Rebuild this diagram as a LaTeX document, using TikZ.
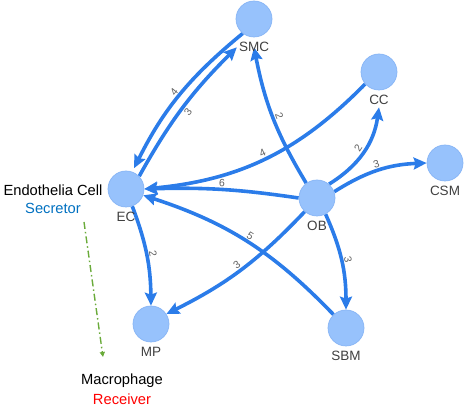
\documentclass[tikz,border=0pt]{standalone}
\usepackage{fontspec}
\setmainfont{Liberation Sans}
\usetikzlibrary{arrows.meta,backgrounds}

\begin{document}
\begin{tikzpicture}[x=1pt,y=1pt,
  cell/.style={circle,minimum size=36,inner sep=0,fill=cellfill,draw=cellline,line width=0.7},
  tag/.style={label distance=3,inner sep=2,text=tagtext,font=\fontsize{13.5}{15}\selectfont},
  flow/.style={draw=flowblue,line width=3.6,-{Stealth[length=13pt,width=12pt,inset=2pt]}},
  wt/.style={sloped,above,inner sep=1,text=wttext,font=\fontsize{10.5}{12}\selectfont},
  signal/.style={draw=signalgreen,line width=1.4,dash pattern=on 7pt off 3pt on 1.5pt off 3pt,-{Triangle[length=5pt,width=5pt]}}]
\definecolor{cellfill}{HTML}{97C2FC}
\definecolor{cellline}{HTML}{86B4F5}
\definecolor{flowblue}{HTML}{2B7CE9}
\definecolor{tagtext}{HTML}{404040}
\definecolor{wttext}{HTML}{606060}
\definecolor{signalgreen}{HTML}{6AAB3A}
\definecolor{secretorblue}{HTML}{0070C0}
\useasboundingbox (0,0) rectangle (467,409);
  \foreach \nm/\x/\y in {EC/126/220,SMC/254/390,CC/379/337,CSM/445/246,OB/317/211,MP/151/85,SBM/346/81}
  {  \node [cell,label={[tag,name=\nm-l]below:\nm}] (\nm) at (\x,\y) {};}
\node [font=\fontsize{14.7}{17}\selectfont] (ecname) at (53,219) {Endothelia Cell};
\node [font=\fontsize{14.7}{17}\selectfont,text=secretorblue] (secr) at (53,201) {Secretor};
\node [font=\fontsize{14.7}{17}\selectfont] (mpname) at (122,28) {Macrophage};
\node [font=\fontsize{14.7}{17}\selectfont,text=red] (recv) at (122,10) {Receiver};
\coordinate (sigfrom) at (84,187);
\coordinate (sigto) at (103,52);
\draw [signal] (sigfrom) -- (sigto);
\begin{scope}[on background layer]
  \draw [flow,shorten >=4pt] (SMC.232) to[bend right=12] node[wt]{4} (EC.70);
  \draw [flow] (EC.44) to[bend left=8] node[wt,below]{3} (SMC-l.west);
  \draw [flow] (OB.126) to[bend left=10] node[wt]{2} (SMC-l.center);
  \draw [flow] (OB.49) to[bend right=25] node[wt]{2} (CC-l.south);
  \draw [flow] (OB.20) to[bend left=15] node[wt]{3} (CSM.180);
  \draw [flow] (CC.221) to[bend left=20] node[wt]{4} (EC.0);
  \draw [flow] (OB.180) to[bend right=5] node[wt]{6} (EC.0);
  \draw [flow] (SBM.133) to[bend right=14] node[wt]{5} (EC.-20);
  \draw [flow] (OB.228) to[bend left=10] node[wt]{3} (MP.33);
  \draw [flow] (EC.-70) to[bend left=10] node[wt]{2} (MP.90);
  \draw [flow] (OB.-62) to[bend left=12] node[wt]{3} (SBM.90);
\end{scope}
\end{tikzpicture}
\end{document}
